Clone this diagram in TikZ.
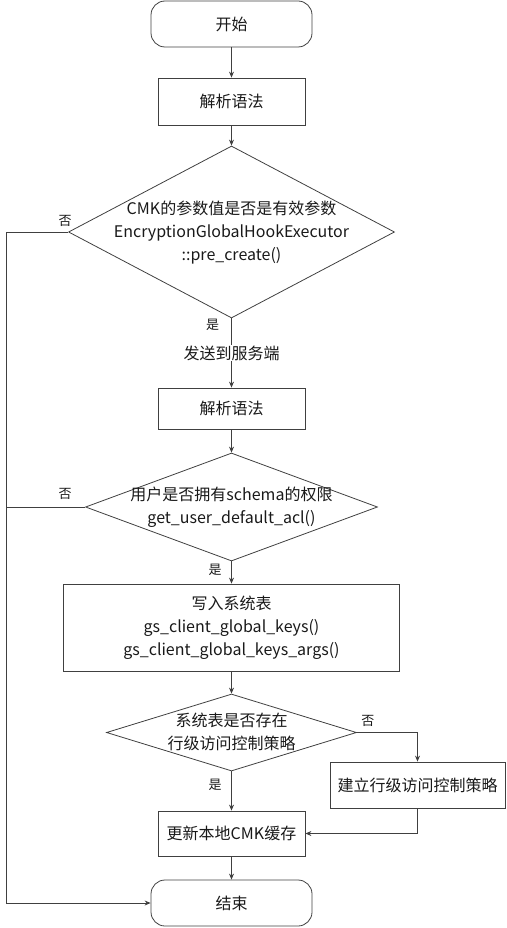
\documentclass[tikz,border=0pt]{standalone}
\usepackage{fontspec}
\setmainfont{Noto Sans CJK SC}
\usetikzlibrary{arrows.meta}
\usetikzlibrary{shapes}
\usetikzlibrary{calc}

\newcommand{\dtext}[1]{\smash{\raisebox{-5pt}{\begin{tabular}{@{}c@{}}#1\end{tabular}}}}

\begin{document}
\begin{tikzpicture}[x=1pt, y=-1pt, >={Stealth[length=6pt,width=5pt]},
        terminal_style/.style={rectangle,rounded corners=14pt,draw=black!75,line width=0.8pt,text=black!90,minimum width=161pt,minimum height=46pt,font=\fontsize{16}{23}\selectfont},
        process_style/.style={rectangle,draw=black!75,line width=0.8pt,text=black!90,align=center,inner sep=2pt,font=\fontsize{16}{23}\selectfont},
        decision_style/.style={diamond,aspect=2.5,draw=black!75,line width=0.8pt,text=black!90,inner sep=0pt,font=\fontsize{16}{23}\selectfont},
        label_style/.style={inner sep=0pt,text=black!90,font=\fontsize{13}{15}\selectfont},
        edge_style/.style={draw=black!75, line width=0.8pt,->}]

        \useasboundingbox (0,0) rectangle (506,928);

        \node [terminal_style](n1) at (231.5,24) {开始};

        \node [process_style,minimum width=147pt,minimum height=47pt](n2) at (231.5,101.5) {解析语法};

        \node [decision_style,minimum width=326pt,minimum height=172pt](n3) at (231.5,232) {\dtext{CMK的参数值是否是有效参数\\EncryptionGlobalHookExecutor\\::pre\_create()}};

        \node [process_style,minimum width=147pt,minimum height=41pt](n4) at (231.5,408.5) {解析语法};

        \node [decision_style,minimum width=292pt,minimum height=108pt](n5) at (231.5,507) {\dtext{用户是否拥有schema的权限\\get\_user\_default\_acl()}};

        \node [process_style,minimum width=336pt,minimum height=87pt](n6) at (231.5,627.5) {写入系统表\\gs\_client\_global\_keys()\\gs\_client\_global\_keys\_args()};

        \node [decision_style,minimum width=250pt,minimum height=77pt](n7) at (231.5,732.5) {\dtext{系统表是否存在\\行级访问控制策略}};

        \node [process_style,minimum width=175pt,minimum height=46pt](n8) at (417.5,785) {建立行级访问控制策略};

        \node [process_style,minimum width=147pt,minimum height=45pt](n9) at (231.5,833.5) {更新本地CMK缓存};

        \node [terminal_style](n10) at (231.5,903) {结束};

        \coordinate (rail) at (6,232);

        \draw [edge_style] (n1) edge (n2);

        \draw [edge_style] (n2) edge (n3);

        \draw [edge_style] (n3) edge node[fill=white,inner sep=1pt,text=black!90,font=\fontsize{16}{23}\selectfont]{发送到服务端} node[label_style,at start,anchor=north east,xshift=-12pt]{是} (n4);

        \draw [edge_style] (n3.west) -- node[label_style,at start,anchor=south east,xshift=4pt,yshift=5pt]{否} (n3.west -| rail) |- (n10.west);

        \draw [edge_style] (n4) edge (n5);

        \draw [edge_style,-] (n5.west) -- node[label_style,at start,anchor=south east,xshift=-13pt,yshift=7pt]{否} (n5.west -| rail);

        \draw [edge_style] (n5) edge node[label_style,at start,anchor=north east,xshift=-9.5pt,yshift=-2pt]{是} (n6);

        \draw [edge_style] (n6) edge (n7);

        \draw [edge_style] (n7.east) -| node[label_style,at start,anchor=south west,xshift=4pt,yshift=6pt]{否} (n8.north);

        \draw [edge_style] (n7) edge node[label_style,at start,anchor=north east,xshift=-9.5pt,yshift=-7pt]{是} (n9);

        \draw [edge_style] (n8.south) |- (n9.east);

        \draw [edge_style] (n9) edge (n10);

        \end{tikzpicture}
\end{document}
